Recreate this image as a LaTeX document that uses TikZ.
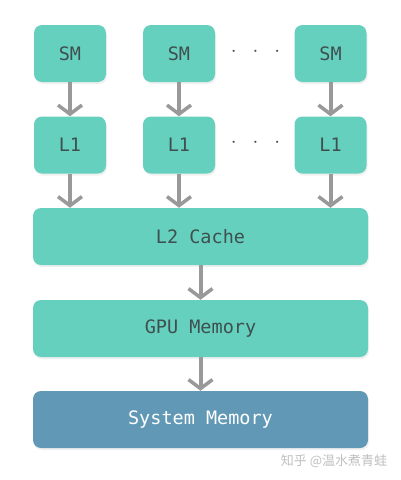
\documentclass[tikz,border=0pt]{standalone}
\usepackage{fontspec}
\setmonofont{DejaVu Sans Mono}
\newfontfamily\cjkfont{Noto Sans CJK SC}
\usetikzlibrary{arrows.meta,shadows}

\definecolor{cachegreen}{HTML}{66D0BF}
\definecolor{sysblue}{HTML}{6198B5}
\definecolor{textgray}{HTML}{3E4F4F}
\definecolor{arrowgray}{HTML}{999999}

\begin{document}
\begin{tikzpicture}[x=1pt,y=-1pt]

 \tikzset{
    box/.style={rectangle, rounded corners=8pt, fill=cachegreen,
      text=textgray, font=\ttfamily\fontsize{18.5}{18.5}\selectfont,
      drop shadow={opacity=0.12, shadow xshift=1pt, shadow yshift=-2pt}},
    core/.style={box, minimum width=72pt, minimum height=57pt},
    wide/.style={box, minimum width=335pt, minimum height=57pt},
    feed/.style={draw=arrowgray, line width=4pt,
      -{Straight Barb[length=9pt, width=24pt, line width=3.5pt]}},
    dots/.style={text=textgray, font=\fontsize{20}{20}\selectfont},
  }

  \useasboundingbox (0,0) rectangle (400,480);

  % streaming multiprocessors
  \node[core] (sm1) at (70,53.5) {SM};
  \node[core] (sm2) at (179,53.5) {SM};
  \node[core] (sm3) at (330.5,53.5) {SM};

  % L1 caches
  \node[core] (l1a) at (70,145) {L1};
  \node[core] (l1b) at (179,145) {L1};
  \node[core] (l1c) at (330.5,145) {L1};

  \node[dots] (gap1) at (255.5,52) {$\cdot$\hspace{16pt}$\cdot$\hspace{16pt}$\cdot$};
  \node[dots] (gap2) at (255.5,143) {$\cdot$\hspace{16pt}$\cdot$\hspace{16pt}$\cdot$};

  % shared levels
  \node[wide] (l2) at (200.5,236.5) {L2 Cache};
  \node[wide] (gpumem) at (200.5,328.5) {GPU Memory};
  \node[wide, fill=sysblue, text=white] (sysmem) at (200.5,419.5) {System Memory};

  \draw[feed] (sm1) -- (l1a);
  \draw[feed] (sm2) -- (l1b);
  \draw[feed] (sm3) -- (l1c);
  \draw[feed] (l1a) -- (l1a |- l2.north);
  \draw[feed] (l1b) -- (l1b |- l2.north);
  \draw[feed] (l1c) -- (l1c |- l2.north);
  \draw[feed] (l2) -- (gpumem);
  \draw[feed] (gpumem) -- (sysmem);

  \node[text=black!25, font=\cjkfont\fontsize{13}{13}\selectfont] (mark) at (334,461) {知乎 @温水煮青蛙};

\end{tikzpicture}
\end{document}
